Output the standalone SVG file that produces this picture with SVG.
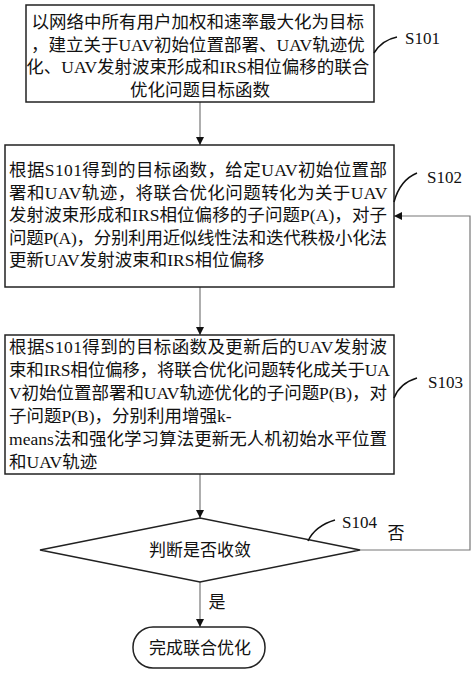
<svg xmlns="http://www.w3.org/2000/svg" width="474" height="674" viewBox="0 0 474 674">
<defs>
<style>
.box{fill:#fff;stroke:#222;stroke-width:1.5}
.t{font-family:"Liberation Serif","Noto Sans CJK SC",serif;font-size:17.5px;fill:#111}
.s{font-family:"Noto Sans CJK SC","Noto Sans",sans-serif;font-size:17px;fill:#111}
.lbl{font-family:"Liberation Serif",serif;font-size:17px;fill:#111}
.c{fill:none;stroke:#777;stroke-width:1.2}
.lead{fill:none;stroke:#111;stroke-width:1.5}
</style>
<marker id="ah" viewBox="0 0 10 10" refX="10" refY="5" markerWidth="8" markerHeight="8" markerUnits="userSpaceOnUse" orient="auto">
<path d="M0,0 L10,5 L0,10 z" fill="#111"/>
</marker>
</defs>
<rect width="474" height="674" fill="#fff"/>
<g id="connectors">
<line class="c" x1="200" y1="102" x2="200" y2="145" marker-end="url(#ah)"/>
<line class="c" x1="200" y1="287" x2="200" y2="335" marker-end="url(#ah)"/>
<line class="c" x1="200" y1="474" x2="200" y2="518" marker-end="url(#ah)"/>
<line class="c" x1="200" y1="582" x2="200" y2="627" marker-end="url(#ah)"/>
<polyline class="c" points="360,550 470,550 470,216 394,216" marker-end="url(#ah)"/>
<text class="s" x="217" y="608" text-anchor="middle">是</text>
<text class="s" x="396" y="539" text-anchor="middle">否</text>
</g>
<g id="S101">
<rect class="box" x="26" y="5" width="348" height="97"/>
<text class="t" text-anchor="middle">
<tspan x="200" y="28">以网络中所有用户加权和速率最大化为目标</tspan>
<tspan x="200" y="50.5">，建立关于UAV初始位置部署、UAV轨迹优</tspan>
<tspan x="200" y="73">化、UAV发射波束形成和IRS相位偏移的联合</tspan>
<tspan x="200" y="95.5">优化问题目标函数</tspan>
</text>
<path class="lead" d="M374,53 Q382,40 397,37"/>
<text class="lbl" x="405" y="44">S101</text>
</g>
<g id="S102">
<rect class="box" x="5" y="145" width="389" height="142"/>
<text class="t">
<tspan x="9" y="176" textLength="378" lengthAdjust="spacing">根据S101得到的目标函数，给定UAV初始位置部</tspan>
<tspan x="9" y="198.5" textLength="378" lengthAdjust="spacing">署和UAV轨迹，将联合优化问题转化为关于UAV</tspan>
<tspan x="9" y="221" textLength="378" lengthAdjust="spacing">发射波束形成和IRS相位偏移的子问题P(A)，对子</tspan>
<tspan x="9" y="243.5" textLength="378" lengthAdjust="spacing">问题P(A)，分别利用近似线性法和迭代秩极小化法</tspan>
<tspan x="9" y="266">更新UAV发射波束和IRS相位偏移</tspan>
</text>
<path class="lead" d="M394,202 Q400,180 417,173"/>
<text class="lbl" x="427" y="183">S102</text>
</g>
<g id="S103">
<rect class="box" x="5" y="335" width="389" height="139"/>
<text class="t">
<tspan x="9" y="353" textLength="378" lengthAdjust="spacing">根据S101得到的目标函数及更新后的UAV发射波</tspan>
<tspan x="9" y="376" textLength="380" lengthAdjust="spacing">束和IRS相位偏移，将联合优化问题转化成关于UA</tspan>
<tspan x="9" y="399" textLength="378" lengthAdjust="spacing">V初始位置部署和UAV轨迹优化的子问题P(B)，对</tspan>
<tspan x="9" y="422">子问题P(B)，分别利用增强k-</tspan>
<tspan x="9" y="445" textLength="378" lengthAdjust="spacing">means法和强化学习算法更新无人机初始水平位置</tspan>
<tspan x="9" y="468">和UAV轨迹</tspan>
</text>
<path class="lead" d="M394,398 Q400,383 417,378"/>
<text class="lbl" x="428" y="388">S103</text>
</g>
<g id="S104">
<polygon class="box" points="40,550 200,518 360,550 200,582"/>
<text class="s" x="200" y="556" text-anchor="middle">判断是否收敛</text>
<path class="lead" d="M308,541 Q315,526 335,520"/>
<text class="lbl" x="342" y="528">S104</text>
</g>
<g id="end">
<rect class="box" x="133" y="627" width="132" height="41" rx="20" ry="20"/>
<text class="s" x="200" y="654" text-anchor="middle">完成联合优化</text>
</g>
</svg>
